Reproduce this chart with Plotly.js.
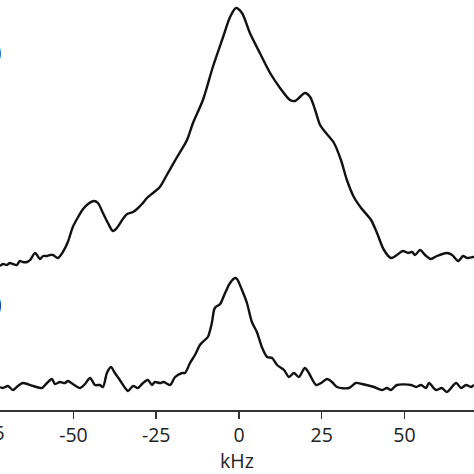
<!DOCTYPE html>
<html>
<head>
<meta charset="utf-8">
<script src="https://cdn.plot.ly/plotly-3.0.1.min.js"></script>
<style>html,body{margin:0;padding:0;background:#fff;}#chart{width:474px;height:474px;}</style>
</head>
<body>
<div id="chart"></div>
<script>
// Spectrum (a): frequency (kHz) and intensity (arb. units, stacked offset included)
var freqA = [-72.2,-71.3,-70.1,-69.2,-68.3,-67.1,-66.2,-65.3,-64.0,-63.1,-61.6,-60.1,-59.2,-58.0,-57.1,-56.2,-54.7,-53.2,-51.7,-50.2,-48.6,-47.1,-45.6,-43.8,-42.6,-41.1,-39.6,-38.1,-36.9,-35.3,-33.8,-32.0,-30.8,-29.3,-27.8,-26.0,-23.9,-21.8,-18.7,-15.7,-13.9,-10.9,-7.9,-4.8,-2.7,-0.9,0.9,3.3,6.3,9.4,12.4,15.4,16.9,18.4,19.9,21.5,23.0,24.5,26.3,28.7,30.8,32.6,34.7,36.9,39.9,41.7,43.8,45.9,47.7,49.5,51.1,52.3,53.2,54.7,56.2,58.0,59.8,62.8,64.4,66.2,67.7,68.9,70.7,71.0];
var intA = [144,146,145,147,146,145,149,148,148,150,157,151,154,154,155,155,152,158,168,183,193,201,206,209,207,197,187,179,182,190,196,198,201,206,212,217,223,235,253,270,287,310,343,373,393,402,397,377,357,337,322,310,309,313,317,313,300,285,277,267,250,230,213,202,190,177,160,152,155,159,157,158,155,160,155,151,154,157,155,149,154,152,153,153];
// Spectrum (b)
var freqB = [-72.2,-71.3,-69.8,-68.3,-66.8,-65.3,-62.2,-59.5,-58.0,-56.5,-55.6,-54.1,-52.6,-51.7,-50.2,-48.0,-46.5,-45.0,-43.5,-42.0,-41.1,-39.9,-38.7,-37.5,-36.0,-34.4,-33.5,-32.0,-30.5,-29.0,-27.5,-26.3,-25.4,-23.9,-22.7,-20.8,-19.3,-17.2,-16.3,-14.8,-13.3,-11.8,-10.3,-9.4,-8.2,-7.3,-5.7,-4.2,-2.7,-1.2,-0.6,0.9,2.4,3.9,5.4,6.9,8.5,10.0,11.5,13.6,15.1,16.6,18.1,19.9,21.1,23.3,24.8,26.6,28.1,29.6,33.2,35.3,37.2,40.8,43.2,44.7,45.9,47.7,52.0,53.5,55.0,56.5,57.4,59.5,61.3,62.8,65.6,67.1,68.6,70.1,71.0];
var intB = [23,22,24,20,24,27,24,22,27,31,26,28,27,29,26,22,26,32,25,25,23,37,43,37,30,22,19,24,22,27,30,25,28,27,28,25,33,37,37,47,55,65,70,73,87,102,106,117,127,132,131,120,107,88,78,63,53,52,45,40,33,37,33,42,37,25,27,31,28,23,22,27,26,23,20,22,20,25,25,23,25,22,27,20,22,18,27,22,25,23,25];
var tickVals = [-50,-25,0,25,50];
var tickText = ['-50','-25','0','25','50'];

var lineStyle = {color:'#111', width:2.4, shape:'spline', smoothing:0.8};
var traces = [
  {x:freqA, y:intA, mode:'lines', line:lineStyle, hoverinfo:'none'},
  {x:freqB, y:intB, mode:'lines', line:lineStyle, hoverinfo:'none'}
];
var font = {family:'"Open Sans", "Noto Sans", sans-serif', size:19.5, color:'#222'};
var labFont = {family:'"Open Sans", "Noto Sans", sans-serif', size:24, color:'#222'};
var layout = {
  width:474, height:474,
  margin:{l:0, r:0, t:0, b:64, pad:0},
  paper_bgcolor:'#fff', plot_bgcolor:'#fff',
  showlegend:false,
  font:font,
  xaxis:{range:[-72.2,71.0], showgrid:false, zeroline:false, showline:true, linecolor:'#333', linewidth:1.5,
         ticks:'outside', ticklen:7, tickwidth:1.5, tickcolor:'#333',
         tickmode:'array', tickvals:tickVals, ticktext:tickText, tickfont:font,
         title:{text:'kHz', font:font, standoff:2}},
  yaxis:{range:[0,410], visible:false, showgrid:false, zeroline:false, fixedrange:true},
  annotations:[
    {xref:'paper', yref:'paper', x:0.0084, y:0.878, xanchor:'right', yanchor:'middle', text:'(a)', showarrow:false, font:labFont},
    {xref:'paper', yref:'paper', x:0.0084, y:0.263, xanchor:'right', yanchor:'middle', text:'(b)', showarrow:false, font:labFont},
    {xref:'paper', yref:'paper', x:-0.0196, y:-0.056, xanchor:'center', yanchor:'middle', text:'-75', showarrow:false, font:font}
  ]
};
Plotly.newPlot('chart', traces, layout, {staticPlot:true, displayModeBar:false});
</script>
</body>
</html>
